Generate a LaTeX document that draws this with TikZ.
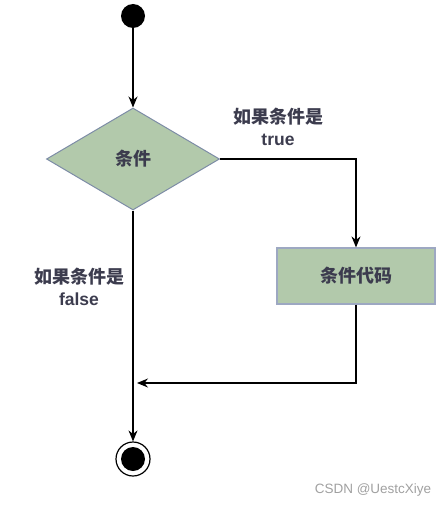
\documentclass[tikz,border=0pt]{standalone}
\usepackage{fontspec}
\setmainfont{Liberation Sans}
\newfontfamily\cjk{Noto Sans CJK SC}
\usetikzlibrary{arrows.meta,shapes.geometric}
\definecolor{stepfill}{HTML}{B2C9AB}
\definecolor{diamondline}{HTML}{7D8CA6}
\definecolor{boxline}{HTML}{9DA8C2}
\definecolor{ink}{HTML}{3C3C4E}
\definecolor{markgray}{HTML}{A0A0A0}

\begin{document}
\begin{tikzpicture}[
  x=1pt,
  y=-1pt,
  >={Stealth[length=11pt,width=9pt]},
  flow/.style={draw=black, line width=1.2pt, ->},
  decision/.style={diamond, draw=diamondline, line width=1pt, fill=stepfill,
    minimum width=173pt, minimum height=102pt, inner sep=0pt,
    text=ink, font=\cjk\bfseries\fontsize{18}{20}\selectfont},
  codebox/.style={rectangle, draw=boxline, line width=1.2pt, fill=stepfill,
    minimum width=158pt, minimum height=56pt, inner sep=0pt,
    text=ink, font=\cjk\bfseries\fontsize{18}{20}\selectfont},
  branchlabel/.style={text=ink, align=center,
    font=\bfseries\fontsize{17.5}{22}\selectfont},
  startdot/.style={circle, fill=black, minimum size=24pt, inner sep=0pt},
  stopring/.style={circle, draw=black, line width=1.2pt, fill=white,
    minimum size=34pt, inner sep=0pt}
]
  \useasboundingbox (0,0) rectangle (447,508);

  % Start, decision and action.
  \node[startdot] (start) at (133,16) {};
  \node[decision] (cond) at (133,159) {条件};
  \node[codebox] (code) at (356,276) {条件代码};
  \node[stopring] (stop) at (133,459) {};
  \fill[black] (stop.center) circle (12);
  \coordinate (merge) at (137,383);

  % Connectors.
  \draw[flow] (start) -- (cond.north);
  \draw[flow] (cond.east) -| (code.north);
  \draw[flow] (code.south) |- (merge);
  \draw[flow] (cond.south) -- (stop.north);

  % Branch labels.
  \node[branchlabel] (truelab) at (278,127)
    {{\cjk\fontsize{18}{22}\selectfont 如果条件是}\\true};
  \node[branchlabel] (falselab) at (79,287)
    {{\cjk\fontsize{18}{22}\selectfont 如果条件是}\\false};

  \node[text=markgray, font=\fontsize{13.5}{15}\selectfont]
    (mark) at (373,490) {CSDN @UestcXiye};
\end{tikzpicture}
\end{document}
